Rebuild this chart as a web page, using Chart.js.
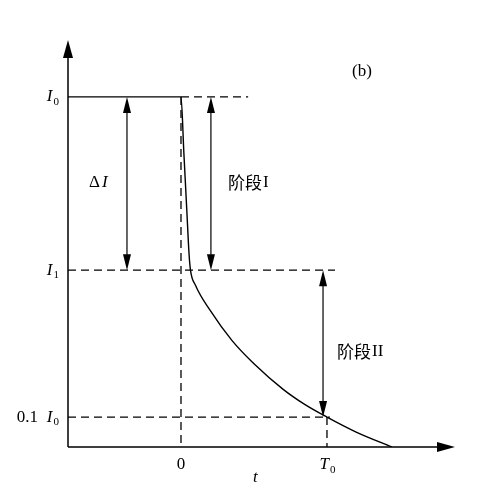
<!DOCTYPE html>
<html><head><meta charset="utf-8">
<script src="https://cdn.jsdelivr.net/npm/chart.js@4/dist/chart.umd.min.js"></script>
<style>html,body{margin:0;background:#fff}#w{width:489px;height:500px}</style>
</head><body><div id="w"><canvas id="c"></canvas></div>
<script>
const curveX = [-0.774, 0, 0.02, 0.04, 0.055, 0.065, 0.1, 0.2, 0.35, 0.5, 0.7, 0.85, 1.0, 1.2, 1.445];
const curveY = [1, 1, 0.84, 0.68, 0.56, 0.513, 0.47, 0.40, 0.315, 0.25, 0.178, 0.135, 0.1, 0.058, 0.016];
const levelNames = ['I0', 'I1', '0.1 I0'];
const levelValues = [1, 0.513, 0.1];
const tickNames = ['0', 'T0'];
const tickValues = [0, 1];
const X_MIN = -0.774, X_MAX = 1.877, Y_MIN = 0.016, Y_MAX = 1.16;

function sub(ctx, main, s, x, y, align, italic) {
  const f1 = (italic ? 'italic ' : '') + '17px "Liberation Serif"';
  const f2 = '11px "Liberation Serif"';
  ctx.font = f1; const w1 = ctx.measureText(main).width;
  ctx.font = f2; const w2 = ctx.measureText(s).width;
  let x0 = align === 'right' ? x - w1 - w2 : align === 'center' ? x - (w1 + w2) / 2 : x;
  ctx.textAlign = 'left'; ctx.textBaseline = 'middle';
  ctx.font = f1; ctx.fillText(main, x0, y);
  ctx.font = f2; ctx.fillText(s, x0 + w1 + 1, y + 5);
}
function arrowHead(ctx, x, y, dir, L, W) {
  ctx.beginPath();
  if (dir === 'up') { ctx.moveTo(x, y); ctx.lineTo(x - W, y + L); ctx.lineTo(x + W, y + L); }
  else if (dir === 'down') { ctx.moveTo(x, y); ctx.lineTo(x - W, y - L); ctx.lineTo(x + W, y - L); }
  else { ctx.moveTo(x, y); ctx.lineTo(x - L, y - W); ctx.lineTo(x - L, y + W); }
  ctx.closePath(); ctx.fill();
}
function dblArrow(ctx, x, y1, y2) {
  ctx.lineWidth = 1.2; ctx.setLineDash([]);
  ctx.beginPath(); ctx.moveTo(x, y1 + 10); ctx.lineTo(x, y2 - 10); ctx.stroke();
  arrowHead(ctx, x, y1, 'up', 16, 4); arrowHead(ctx, x, y2, 'down', 16, 4);
}
const deco = {
  id: 'deco',
  afterDatasetsDraw(chart) {
    const ctx = chart.ctx, xs = chart.scales.x, ys = chart.scales.y;
    const X = v => xs.getPixelForValue(v), Y = v => ys.getPixelForValue(v);
    const a = chart.chartArea;
    ctx.save(); ctx.strokeStyle = '#000'; ctx.fillStyle = '#000';
    ctx.lineWidth = 1.5;
    ctx.beginPath(); ctx.moveTo(a.left, a.bottom); ctx.lineTo(a.left, a.top + 10);
    ctx.moveTo(a.left, a.bottom); ctx.lineTo(a.right - 10, a.bottom); ctx.stroke();
    arrowHead(ctx, a.left, a.top, 'up', 18, 5);
    arrowHead(ctx, a.right, a.bottom, 'right', 18, 5);
    ctx.lineWidth = 1.3; ctx.setLineDash([8, 5]);
    const seg = (x1, y1, x2, y2) => { ctx.beginPath(); ctx.moveTo(x1, y1); ctx.lineTo(x2, y2); ctx.stroke(); };
    seg(X(0), Y(1), X(0.46), Y(1));
    seg(a.left, Y(0.513), X(1.055), Y(0.513));
    seg(a.left, Y(0.1), X(1.02), Y(0.1));
    seg(X(0), Y(1), X(0), a.bottom);
    seg(X(1), Y(0.1), X(1), a.bottom);
    ctx.setLineDash([]);
    dblArrow(ctx, X(-0.37), Y(1), Y(0.513));
    dblArrow(ctx, X(0.205), Y(1), Y(0.513));
    dblArrow(ctx, X(0.973), Y(0.513), Y(0.1));
    sub(ctx, 'I', '0', a.left - 10, Y(levelValues[0]), 'right', true);
    sub(ctx, 'I', '1', a.left - 10, Y(levelValues[1]), 'right', true);
    sub(ctx, 'I', '0', a.left - 10, Y(levelValues[2]), 'right', true);
    ctx.font = '17px "Liberation Serif"'; ctx.textAlign = 'right'; ctx.textBaseline = 'middle';
    ctx.fillText('0.1', a.left - 30, Y(0.1));
    ctx.textAlign = 'center'; ctx.textBaseline = 'top';
    ctx.fillText(tickNames[0], X(tickValues[0]), a.bottom + 9);
    sub(ctx, 'T', '0', X(tickValues[1]), a.bottom + 18, 'center', true);
    ctx.font = 'italic 17px "Liberation Serif"'; ctx.textAlign = 'center'; ctx.textBaseline = 'middle';
    ctx.fillText('t', X(0.51), a.bottom + 31);
    ctx.font = '17px "Liberation Serif"';
    ctx.fillText('(b)', 362, 72);
    ctx.textAlign = 'left';
    ctx.font = '17px "Liberation Serif"'; ctx.fillText('Δ', 89, 183);
    ctx.font = 'italic 17px "Liberation Serif"'; ctx.fillText('I', 102, 183);
    ctx.font = '17px "Noto Sans CJK SC"'; ctx.fillText('阶段', 228, 183);
    ctx.font = '17px "Liberation Serif"'; ctx.fillText('I', 263, 183);
    ctx.font = '17px "Noto Sans CJK SC"'; ctx.fillText('阶段', 337, 352);
    ctx.font = '17px "Liberation Serif"'; ctx.fillText('II', 372, 352);
    ctx.restore();
  }
};
new Chart(document.getElementById('c'), {
  type: 'scatter',
  data: { datasets: [{ data: curveX.map((x, i) => ({ x, y: curveY[i] })), showLine: true,
    borderColor: '#000', borderWidth: 1.4, pointRadius: 0, cubicInterpolationMode: 'monotone' }] },
  options: {
    responsive: true, maintainAspectRatio: false, animation: false,
    layout: { padding: { left: 68, right: 34, top: 40, bottom: 53 } },
    plugins: { legend: { display: false }, tooltip: { enabled: false } },
    scales: { x: { type: 'linear', min: X_MIN, max: X_MAX, display: false },
              y: { type: 'linear', min: Y_MIN, max: Y_MAX, display: false } }
  },
  plugins: [deco]
});
</script></body></html>
